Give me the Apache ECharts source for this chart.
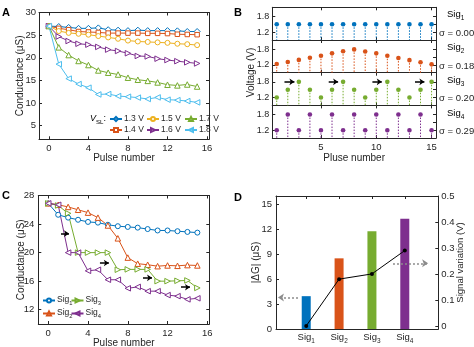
<!DOCTYPE html>
<html>
<head>
<meta charset="utf-8">
<script src="https://cdn.jsdelivr.net/npm/echarts@6.0.0/dist/echarts.min.js"></script>
<style>
html,body{margin:0;padding:0;background:#ffffff;}
#chart{width:474px;height:347px;}
</style>
</head>
<body>
<div id="chart"></div>
<script>
// ---------------- data ----------------
// Panel A
const pulseA = [0,1,2,3,4,5,6,7,8,9,10,11,12,13,14,15];
const vslNames = ['1.3 V','1.4 V','1.5 V','1.6 V','1.7 V','1.8 V'];
const gV13 = [27.0,26.9,26.7,26.5,26.5,26.6,26.2,26.1,26.0,26.1,26.0,26.0,26.0,25.95,25.8,25.8];
const gV14 = [27.0,26.5,26.2,25.8,25.7,25.6,25.45,25.45,25.45,25.45,25.4,25.4,25.35,25.2,25.15,25.1];
const gV15 = [27.0,25.9,25.5,25.3,25.1,24.8,24.5,24.2,23.8,23.6,23.5,23.4,23.3,23.1,23.0,22.8];
const gV16 = [27.0,24.7,23.7,23.1,22.9,22.4,21.8,21.5,21.0,20.4,20.3,19.8,19.5,19.25,19.0,18.75];
const gV17 = [27.0,22.3,20.6,19.3,18.4,17.2,16.7,16.3,15.6,15.15,14.9,14.55,14.05,13.9,14.1,13.65];
const gV18 = [27.0,18.6,15.4,14.2,13.4,11.9,12.0,11.55,11.4,11.2,10.9,11.25,10.75,10.65,10.45,10.15];
const aXTicks = [0,4,8,12,16];
const aYTicks = [5,10,15,20,25,30];

// Panel B
const pulseB = [1,2,3,4,5,6,7,8,9,10,11,12,13,14,15];
const bSig1 = [1.5,1.5,1.5,1.5,1.5,1.5,1.5,1.5,1.5,1.5,1.5,1.5,1.5,1.5,1.5];
const bSig2 = [1.23,1.31,1.39,1.47,1.55,1.64,1.72,1.79,1.71,1.64,1.55,1.46,1.38,1.30,1.22];
const bSig3 = [1.2,1.5,1.8,1.5,1.2,1.5,1.8,1.5,1.2,1.5,1.8,1.5,1.2,1.5,1.8];
const bSig4 = [1.2,1.8,1.2,1.8,1.2,1.8,1.2,1.8,1.2,1.8,1.2,1.8,1.2,1.8,1.2];
const sigSubs = ['1','2','3','4'];
const sigmaLabels = ['\u03c3 = 0.00','\u03c3 = 0.18','\u03c3 = 0.20','\u03c3 = 0.29'];
const bXTicks = [5,10,15];
const bYTicks = [1.2,1.5,1.8];
const sig3Arrows = [[1.7,2.6],[5.7,6.55],[9.65,10.5],[13.5,14.35]];
const sig3ArrowLevel = 1.8;

// Panel C
const pulseC = [0,1,2,3,4,5,6,7,8,9,10,11,12,13,14,15];
const cNames = ['Sig1','Sig2','Sig3','Sig4'];
const cSig1 = [26.9,25.3,24.9,24.6,24.3,24.2,23.9,23.7,23.6,23.5,23.3,23.1,23.1,23.0,22.9,22.8];
const cSig2 = [26.9,26.7,26.4,26.0,25.6,24.9,23.8,22.0,19.3,18.45,18.3,18.1,18.2,18.15,18.25,18.2];
const cSig3 = [26.9,26.6,25.5,20.0,20.0,20.0,20.0,17.6,17.65,17.65,17.65,16.0,16.0,16.05,16.1,15.05];
const cSig4 = [26.9,26.7,20.0,20.0,17.45,17.6,16.2,16.2,15.0,15.2,14.6,14.6,14.05,13.9,13.45,13.6];
const cXTicks = [0,4,8,12,16];
const cYTicks = [12,16,20,24,28];
const cArrows = [[1.28,2.09,22.67],[5.2,6.1,18.55],[9.53,10.44,16.47],[13.35,14.26,15.15]];

// Panel D
const dPos = [1,2,3,4];
const dDeltaG = [3.95,8.5,11.75,13.25];
const dSigma = [0,0.18,0.20,0.29];
const dLeftTicks = [0,3,6,9,12,15];
const dRightTicks = [0,0.1,0.2,0.3,0.4,0.5];
const dArrows = [[0.75,0.14,3.8],[3.64,4.71,7.9]];

// ---------------- style ----------------
const FONT = 'Liberation Sans, Arial, sans-serif';
const AXC = '#262626';
const C_BLUE = '#0072BD', C_ORANGE = '#D95319', C_YELLOW = '#EDB120',
      C_PURPLE = '#7E2F8E', C_GREEN = '#77AC30', C_CYAN = '#4DBEEE';

function richSub(f, color) {
  return {
    m: {fontSize: f, lineHeight: Math.round(f * 1.2), verticalAlign: 'top', fontFamily: FONT, color: color || AXC},
    v: {fontSize: f, lineHeight: Math.round(f * 1.2), verticalAlign: 'top', fontFamily: FONT, fontStyle: 'italic', color: color || AXC},
    s: {fontSize: f * 0.68, lineHeight: f * 0.68, padding: [f * 0.62, 0, 0, 0], verticalAlign: 'top', fontFamily: FONT, color: color || AXC}
  };
}

function mkAxis(o) {
  const a = {
    type: 'value', gridIndex: o.g, min: o.min, max: o.max, position: o.pos,
    axisLine: {show: true, onZero: false, lineStyle: {color: AXC, width: 1}},
    axisTick: {show: true, inside: true, length: 3, customValues: o.ticks, lineStyle: {color: AXC, width: 1}},
    axisLabel: {show: !!o.lab, customValues: o.ticks, margin: o.margin == null ? 3 : o.margin,
                color: AXC, fontFamily: FONT, fontSize: o.fs || 9.5, formatter: o.fmt, rich: o.rich,
                hideOverlap: false, showMinLabel: true, showMaxLabel: true},
    splitLine: {show: false}, splitArea: {show: false}
  };
  if (!o.fmt) delete a.axisLabel.formatter;
  if (!o.rich) delete a.axisLabel.rich;
  if (o.name) {
    a.name = o.name; a.nameLocation = 'middle'; a.nameGap = o.nameGap;
    a.nameMoveOverlap = false;
    a.nameTextStyle = {color: AXC, fontFamily: FONT, fontSize: o.nfs || 10};
  }
  return a;
}

const grids = [
  {left: 39, top: 12.5, width: 170, height: 126.8},
  {left: 272.3, top: 7.3, width: 163.7, height: 32.7},
  {left: 272.3, top: 40, width: 163.7, height: 32.7},
  {left: 272.3, top: 72.7, width: 163.7, height: 32.7},
  {left: 272.3, top: 105.4, width: 163.7, height: 32.7},
  {left: 38.3, top: 195.5, width: 171, height: 128.5},
  {left: 276, top: 196, width: 162.3, height: 133}
].map(g => Object.assign({containLabel: false, outerBoundsMode: 'none'}, g));

const xAxes = [], yAxes = [];
// A
xAxes.push(mkAxis({g: 0, min: -1, max: 16.2, pos: 'bottom', ticks: aXTicks, lab: true, margin: 4, name: 'Pulse number', nameGap: 13.5}));
xAxes.push(mkAxis({g: 0, min: -1, max: 16.2, pos: 'top', ticks: aXTicks}));
yAxes.push(mkAxis({g: 0, min: 2, max: 30, pos: 'left', ticks: aYTicks, lab: true, margin: 3, name: 'Conductance (\u03bcS)', nameGap: 13.5}));
yAxes.push(mkAxis({g: 0, min: 2, max: 30, pos: 'right', ticks: aYTicks}));
// B
for (let i = 0; i < 4; i++) {
  const last = i === 3;
  xAxes.push(mkAxis({g: i + 1, min: 0.6, max: 15.4, pos: 'bottom', ticks: bXTicks, lab: last, margin: 4,
                     name: last ? 'Pluse number' : '', nameGap: 15}));
  xAxes.push(mkAxis({g: i + 1, min: 0.6, max: 15.4, pos: 'top', ticks: bXTicks}));
  yAxes.push(mkAxis({g: i + 1, min: 0.9, max: 2.15, pos: 'left', ticks: bYTicks, lab: true, margin: 3, fs: 9,
                     fmt: v => v.toFixed(1)}));
  yAxes.push(mkAxis({g: i + 1, min: 0.9, max: 2.15, pos: 'right', ticks: bYTicks}));
}
// C
xAxes.push(mkAxis({g: 5, min: -1, max: 16.2, pos: 'bottom', ticks: cXTicks, lab: true, margin: 4, name: 'Pulse number', nameGap: 14}));
xAxes.push(mkAxis({g: 5, min: -1, max: 16.2, pos: 'top', ticks: cXTicks}));
yAxes.push(mkAxis({g: 5, min: 10, max: 28, pos: 'left', ticks: cYTicks, lab: true, margin: 4, name: 'Conductance (\u03bcS)', nameGap: 12}));
yAxes.push(mkAxis({g: 5, min: 10, max: 28, pos: 'right', ticks: cYTicks}));
// D
xAxes.push(mkAxis({g: 6, min: 0.08, max: 5.02, pos: 'bottom', ticks: dPos, lab: true, margin: 3,
                   fmt: v => '{m|Sig}{s|' + sigSubs[Math.round(v) - 1] + '}', rich: richSub(9.5)}));
xAxes.push(mkAxis({g: 6, min: 0.08, max: 5.02, pos: 'top', ticks: dPos}));
yAxes.push(mkAxis({g: 6, min: 0, max: 16, pos: 'left', ticks: dLeftTicks, lab: true, margin: 4, name: '|\u0394G| (\u03bcS)', nameGap: 15}));
yAxes.push(mkAxis({g: 6, min: -0.012, max: 0.5, pos: 'right', ticks: dRightTicks, lab: true, margin: 3,
                   fmt: v => (v === 0 ? '0' : v.toFixed(1)), name: 'Signal variation (V)', nameGap: 17, nfs: 9.5}));

// ---------------- series ----------------
const series = [];
function openMarkerLine(name, xi, yi, xs, ys, sym, rot, color, size) {
  return {
    type: 'line', name: name, xAxisIndex: xi, yAxisIndex: yi,
    data: xs.map((p, i) => [p, ys[i]]),
    symbol: sym, symbolRotate: rot, symbolSize: size, showAllSymbol: true,
    lineStyle: {color: color, width: 1},
    itemStyle: {color: '#ffffff', borderColor: color, borderWidth: 1}
  };
}
const aDefs = [
  [vslNames[0], gV13, 'diamond', 0, C_BLUE, 6],
  [vslNames[1], gV14, 'rect', 0, C_ORANGE, 4.5],
  [vslNames[2], gV15, 'circle', 0, C_YELLOW, 5],
  [vslNames[3], gV16, 'triangle', -90, C_PURPLE, 5.5],
  [vslNames[4], gV17, 'triangle', 0, C_GREEN, 5.5],
  [vslNames[5], gV18, 'triangle', 90, C_CYAN, 5.5]
];
aDefs.forEach(d => series.push(openMarkerLine(d[0], 0, 0, pulseA, d[1], d[2], d[3], d[4], d[5])));

function stemRender(color, baseVal) {
  return function (params, api) {
    const x = api.value(0), y = api.value(1);
    const top = api.coord([x, y]);
    const base = api.coord([x, baseVal]);
    return {
      type: 'group',
      children: [
        {type: 'line', shape: {x1: top[0], y1: top[1], x2: base[0], y2: base[1]},
         style: {stroke: color, lineWidth: 1, lineDash: [1.5, 1.5]}},
        {type: 'circle', shape: {cx: top[0], cy: top[1], r: 2.3}, style: {fill: color}}
      ]
    };
  };
}
const bDefs = [[bSig1, C_BLUE], [bSig2, C_ORANGE], [bSig3, C_GREEN], [bSig4, C_PURPLE]];
bDefs.forEach((d, i) => {
  series.push({
    type: 'custom', name: 'b' + i, xAxisIndex: 2 + 2 * i, yAxisIndex: 2 + 2 * i,
    data: pulseB.map((p, j) => [p, d[0][j]]),
    renderItem: stemRender(d[1], 0.9)
  });
});
series.push({
  type: 'line', name: 'bArrows', xAxisIndex: 6, yAxisIndex: 6, data: [],
  markLine: {
    silent: true, symbol: ['none', 'arrow'], symbolSize: 5, label: {show: false},
    lineStyle: {color: '#000', width: 1.5, type: 'solid'},
    data: sig3Arrows.map(a => [{coord: [a[0], sig3ArrowLevel]}, {coord: [a[1], sig3ArrowLevel]}])
  }
});

const cDefs = [
  [cNames[0], cSig1, 'circle', 0, C_BLUE, 5],
  [cNames[1], cSig2, 'triangle', 0, C_ORANGE, 5.5],
  [cNames[2], cSig3, 'triangle', -90, C_GREEN, 5.5],
  [cNames[3], cSig4, 'triangle', 90, C_PURPLE, 5.5]
];
cDefs.forEach((d, i) => {
  const s = openMarkerLine(d[0], 10, 10, pulseC, d[1], d[2], d[3], d[4], d[5]);
  if (i === 0) {
    s.markLine = {
      silent: true, symbol: ['none', 'arrow'], symbolSize: 5, label: {show: false},
      lineStyle: {color: '#000', width: 1.5, type: 'solid'},
      data: cArrows.map(a => [{coord: [a[0], a[2]]}, {coord: [a[1], a[2]]}])
    };
  }
  series.push(s);
});

const barColors = [C_BLUE, C_ORANGE, C_GREEN, C_PURPLE];
series.push({
  type: 'bar', name: 'dG', xAxisIndex: 12, yAxisIndex: 12, barWidth: 9,
  data: dPos.map((x, i) => ({value: [x, dDeltaG[i]], itemStyle: {color: barColors[i]}})),
  markLine: {
    silent: true, symbol: ['none', 'arrow'], symbolSize: 6, label: {show: false},
    lineStyle: {color: '#8c8c8c', width: 1.5, type: [2, 2]},
    itemStyle: {color: '#8c8c8c'},
    data: dArrows.map(a => [{coord: [a[0], a[2]]}, {coord: [a[1], a[2]]}])
  }
});
series.push({
  type: 'line', name: 'sigma', xAxisIndex: 12, yAxisIndex: 13,
  data: dPos.map((x, i) => [x, dSigma[i]]),
  symbol: 'circle', symbolSize: 4,
  lineStyle: {color: '#000', width: 1}, itemStyle: {color: '#000'}, z: 5
});

// ---------------- legends ----------------
const legends = [];
const aLegPos = [[109, 114.5], [109, 125.5], [146, 114.5], [146, 125.5], [184, 114.5], [184, 125.5]];
vslNames.forEach((n, i) => {
  legends.push({
    data: [n], left: aLegPos[i][0], top: aLegPos[i][1], itemWidth: 12, itemHeight: 5, itemGap: 0, padding: 0,
    selectedMode: false,
    textStyle: {fontSize: 8.5, fontFamily: FONT, color: AXC, padding: [0, 0, 0, -3]}
  });
});
const cLegPos = [[42, 295.5], [42, 308.5], [70.5, 295.5], [70.5, 308.5]];
cNames.forEach((n, i) => {
  legends.push({
    data: [n], left: cLegPos[i][0], top: cLegPos[i][1], itemWidth: 12, itemHeight: 5, itemGap: 0, padding: 0,
    selectedMode: false,
    formatter: name => '{m|' + name.slice(0, 3) + '}{s|' + name.slice(3) + '}',
    textStyle: {fontSize: 8.5, fontFamily: FONT, color: AXC, padding: [0, 0, 0, -3], rich: richSub(8.5)}
  });
});

// ---------------- texts ----------------
const graphics = [];
function letter(t, x, y) {
  graphics.push({type: 'text', x: x, y: y, style: {text: t, fontSize: 11, fontWeight: 'bold', fontFamily: FONT,
                 fill: '#000', align: 'left', verticalAlign: 'middle'}});
}
letter('A', 2, 13); letter('B', 234, 13); letter('C', 2, 195.5); letter('D', 234, 198);
graphics.push({type: 'text', x: 90, y: 119.5, style: {text: '{v|V}{s|SL}{m|:}', rich: richSub(9), align: 'left', verticalAlign: 'middle'}});
graphics.push({type: 'text', x: 251.7, y: 72.5, rotation: Math.PI / 2,
               style: {text: 'Voltage (V)', fontSize: 10, fontFamily: FONT, fill: AXC, align: 'center', verticalAlign: 'middle'}});
const bTops = [7.3, 40, 72.7, 105.4];
bTops.forEach((t, i) => {
  graphics.push({type: 'text', x: 447, y: t + 8, style: {text: '{m|Sig}{s|' + sigSubs[i] + '}', rich: richSub(9.5), align: 'left', verticalAlign: 'middle'}});
  graphics.push({type: 'text', x: 439, y: t + 26, style: {text: sigmaLabels[i], fontSize: 9.5, fontFamily: FONT, fill: AXC, align: 'left', verticalAlign: 'middle'}});
});

const option = {
  animation: false,
  backgroundColor: '#ffffff',
  grid: grids,
  xAxis: xAxes,
  yAxis: yAxes,
  legend: legends,
  series: series,
  graphic: graphics
};
const chart = echarts.init(document.getElementById('chart'), null, {renderer: 'canvas'});
chart.setOption(option);
</script>
</body>
</html>
